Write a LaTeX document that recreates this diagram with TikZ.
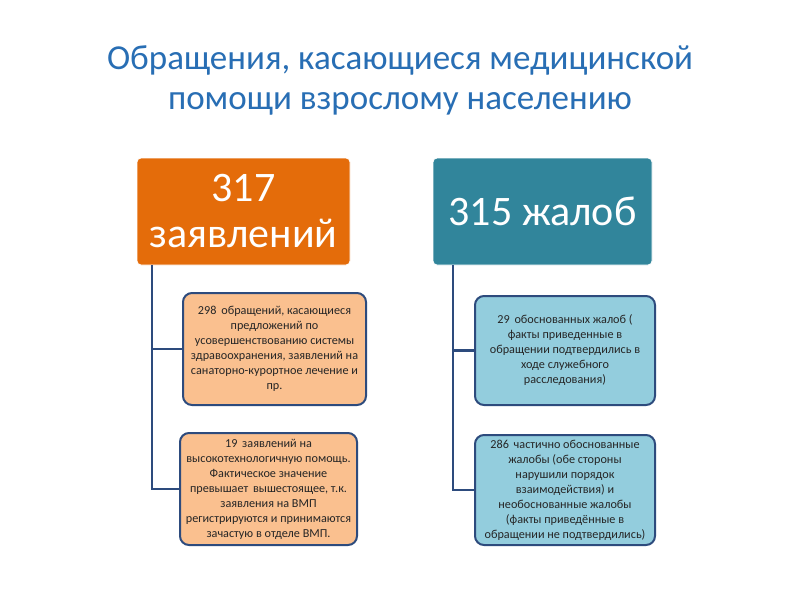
\documentclass[tikz,border=0pt]{standalone}
\usepackage{fontspec}
\setmainfont{Carlito}
\begin{document}
\begin{tikzpicture}[x=1pt,y=-1pt,
  hdr/.style={draw=white,line width=0.8pt,rounded corners=4pt,text=white,align=center,font=\fontsize{42}{46}\selectfont,inner sep=0pt},
  sub/.style={draw=boxline,line width=2pt,rounded corners=9pt,align=center,font=\fontsize{12.2}{15}\selectfont,inner sep=2pt,text=black!85},
  conn/.style={draw=boxline,line width=2.2pt}]
\definecolor{titleblue}{RGB}{40,110,180}
\definecolor{orng}{RGB}{228,108,10}
\definecolor{teal}{RGB}{49,133,155}
\definecolor{lorng}{RGB}{250,192,143}
\definecolor{lteal}{RGB}{147,205,221}
\definecolor{boxline}{RGB}{45,75,125}
\useasboundingbox (0,0) rectangle (800,600);
\fill[white] (0,0) rectangle (800,600);
\node[text=titleblue,align=center,font=\fontsize{35}{40}\selectfont] (title) at (400,80) {Обращения, касающиеся медицинской\\помощи взрослому населению};
\node[hdr,fill=orng,minimum width=213,minimum height=107] (a) at (243.5,211.5) {317\\заявлений};
\node[hdr,fill=teal,minimum width=219,minimum height=107] (b) at (542.5,211.5) {315 жалоб};
\node[sub,fill=lorng,minimum width=183,minimum height=112] (a1) at (274.5,349) {298\, обращений, касающиеся\\предложений по\\усовершенствованию системы\\здравоохранения, заявлений на\\санаторно-курортное лечение и\\пр.};
\node[sub,fill=lorng,minimum width=177,minimum height=112] (a2) at (268.5,489) {19\, заявлений на\\высокотехнологичную помощь.\\Фактическое значение\\превышает\, вышестоящее, т.к.\\заявления на ВМП\\регистрируются и принимаются\\зачастую в отделе ВМП.};
\node[sub,fill=lteal,minimum width=180,minimum height=109] (b1) at (565,350.5) {29\, обоснованных жалоб (\\факты приведенные в\\обращении подтвердились в\\ходе служебного\\расследования)};
\node[sub,fill=lteal,minimum width=180,minimum height=110] (b2) at (565,490) {286\, частично обоснованные\\жалобы (обе стороны\\нарушили порядок\\взаимодействия) и\\необоснованные жалобы\\(факты приведённые в\\обращении не подтвердились)};
\coordinate (ca) at (152,265);
\coordinate (cb) at (453,265);
\draw[conn] (ca) |- (a1.west);
\draw[conn] (ca) |- (a2.west);
\draw[conn] (cb) |- (b1.west);
\draw[conn] (cb) |- (b2.west);
\end{tikzpicture}
\end{document}
